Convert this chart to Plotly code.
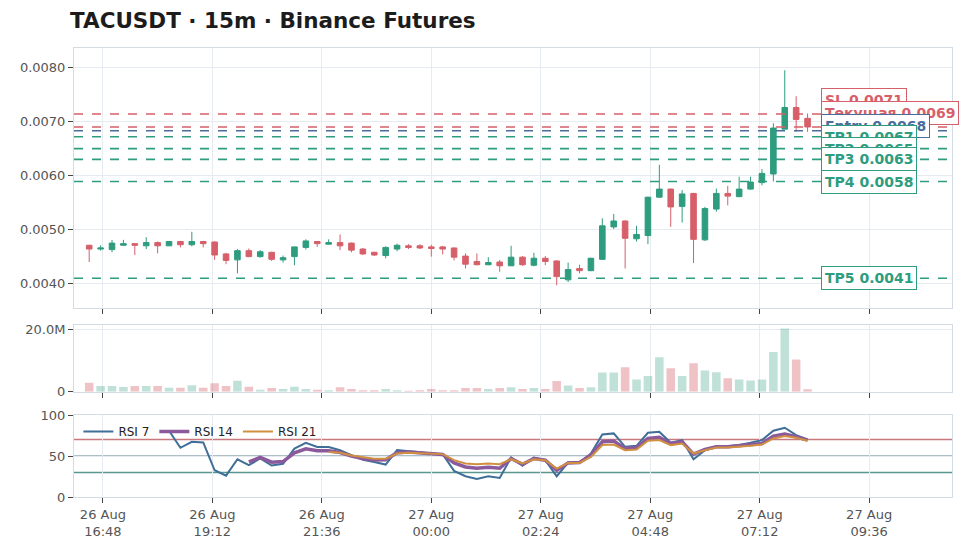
import pandas as pd
import plotly.graph_objects as go
from plotly.subplots import make_subplots

# 15m candles, 26 Aug 16:30 -> 27 Aug 08:15
times = pd.date_range("2025-08-26 16:30", periods=64, freq="15min")

opens = [0.00470, 0.00463, 0.00462, 0.00470, 0.00473, 0.00469, 0.00475, 0.00469, 0.00477, 0.00471,
         0.00477, 0.00476, 0.00454, 0.00443, 0.00460, 0.00449, 0.00457, 0.00443, 0.00449, 0.00466,
         0.00477, 0.00472, 0.00475, 0.00474, 0.00463, 0.00457, 0.00451, 0.00463, 0.00469, 0.00469,
         0.00467, 0.00467, 0.00465, 0.00450, 0.00440, 0.00434, 0.00439, 0.00432, 0.00448, 0.00433,
         0.00446, 0.00441, 0.00406, 0.00427, 0.00423, 0.00444, 0.00504, 0.00515, 0.00482, 0.00488,
         0.00559, 0.00574, 0.00542, 0.00566, 0.00480, 0.00537, 0.00566, 0.00560, 0.00574, 0.00586,
         0.00602, 0.00685, 0.00725, 0.00705]
highs = [0.00471, 0.00470, 0.00480, 0.00480, 0.00474, 0.00485, 0.00477, 0.00478, 0.00478, 0.00495,
         0.00478, 0.00477, 0.00456, 0.00463, 0.00464, 0.00461, 0.00458, 0.00451, 0.00467, 0.00481,
         0.00478, 0.00481, 0.00490, 0.00475, 0.00465, 0.00458, 0.00468, 0.00473, 0.00472, 0.00472,
         0.00471, 0.00469, 0.00466, 0.00455, 0.00455, 0.00448, 0.00443, 0.00469, 0.00450, 0.00456,
         0.00450, 0.00442, 0.00438, 0.00434, 0.00447, 0.00520, 0.00528, 0.00516, 0.00506, 0.00560,
         0.00619, 0.00575, 0.00572, 0.00567, 0.00541, 0.00575, 0.00580, 0.00597, 0.00597, 0.00611,
         0.00696, 0.00794, 0.00746, 0.00714]
lows = [0.00439, 0.00460, 0.00457, 0.00469, 0.00452, 0.00463, 0.00455, 0.00469, 0.00466, 0.00468,
        0.00466, 0.00443, 0.00435, 0.00418, 0.00448, 0.00447, 0.00441, 0.00438, 0.00433, 0.00462,
        0.00467, 0.00472, 0.00461, 0.00457, 0.00452, 0.00450, 0.00446, 0.00459, 0.00463, 0.00463,
        0.00449, 0.00453, 0.00442, 0.00427, 0.00433, 0.00433, 0.00421, 0.00432, 0.00432, 0.00431,
        0.00433, 0.00396, 0.00402, 0.00418, 0.00422, 0.00443, 0.00500, 0.00427, 0.00477, 0.00472,
        0.00558, 0.00504, 0.00512, 0.00437, 0.00478, 0.00532, 0.00544, 0.00560, 0.00573, 0.00581,
        0.00588, 0.00685, 0.00680, 0.00680]
closes = [0.00463, 0.00465, 0.00474, 0.00473, 0.00470, 0.00475, 0.00469, 0.00477, 0.00471, 0.00477,
          0.00473, 0.00452, 0.00442, 0.00460, 0.00449, 0.00458, 0.00444, 0.00447, 0.00467, 0.00478,
          0.00473, 0.00475, 0.00469, 0.00461, 0.00454, 0.00452, 0.00466, 0.00470, 0.00466, 0.00465,
          0.00464, 0.00463, 0.00448, 0.00435, 0.00434, 0.00438, 0.00432, 0.00448, 0.00434, 0.00446,
          0.00440, 0.00412, 0.00425, 0.00423, 0.00446, 0.00506, 0.00515, 0.00483, 0.00490, 0.00559,
          0.00574, 0.00541, 0.00565, 0.00481, 0.00538, 0.00566, 0.00561, 0.00574, 0.00587, 0.00603,
          0.00687, 0.00725, 0.00703, 0.00689]
volumes = [2.9, 1.8, 1.8, 1.5, 1.8, 1.8, 1.8, 1.3, 1.3, 2.1,
           1.3, 2.7, 1.8, 3.5, 1.6, 0.6, 1.2, 0.9, 1.6, 0.9,
           0.6, 0.5, 1.4, 0.85, 0.5, 0.5, 0.85, 0.5, 0.3, 0.5,
           0.85, 0.5, 0.5, 1.2, 1.2, 0.85, 1.2, 1.4, 0.9, 1.2,
           0.9, 3.4, 2.0, 1.2, 1.4, 6.1, 6.1, 7.8, 3.9, 5.0,
           11.0, 7.5, 5.0, 9.1, 6.8, 6.2, 4.3, 3.9, 3.6, 3.9,
           12.7, 20.2, 10.3, 0.8]  # millions

N = None
rsi7 = [N] * 7 + [80.8, 60, 67.3, 66.5, 32.6, 26, 46, 38.8, 47, 38.4,
                  40.5, 59, 66, 61, 61, 57, 51, 45.5, 42.8, 39.6,
                  57.2, 56.3, 54.7, 53, 52.3, 31.8, 25.3, 22, 25.3, 23.3,
                  48.2, 38, 48.2, 44.9, 25.3, 42, 42, 53, 76.3, 77.6,
                  61.2, 62.4, 78.4, 79.6, 66.1, 69.4, 46, 57, 62, 62,
                  63.3, 66.1, 69.4, 80.8, 84.5, 75.5, 70.2]
rsi14 = [N] * 14 + [42.8, 48.2, 42.4, 43.2, 53.9, 58.8, 56.3, 56.3, 54.3, 49.8,
                    47, 45, 45.5, 53.9, 55, 54.3, 53, 51.9, 41.6, 36.7,
                    35.1, 36.3, 35.0, 46.9, 40, 46.9, 44.9, 32.7, 41.6, 42,
                    51, 67.3, 68.2, 59.2, 60, 71.4, 72.7, 65.3, 67.3, 52.2,
                    58, 61.2, 61.2, 62.4, 64, 65.3, 74.3, 76.7, 73.5, 69.4]
rsi21 = [N] * 21 + [55, 53.9, 50.6, 48.2, 46.6, 46.6, 53, 53.9, 53.5, 53,
                    52.3, 44.9, 40.8, 40, 40.8, 40, 46.1, 40.8, 46.1, 44.9,
                    34.7, 41.6, 41.6, 49, 63.3, 64, 57.1, 58, 68.6, 69.4,
                    63.3, 65.3, 53, 57.1, 60.4, 60.4, 61.2, 62.4, 64, 71.4,
                    74.3, 72.2, 68.6]

level_names = ["SL", "Текущая", "Entry", "TP1", "TP2", "TP3", "TP4", "TP5"]
level_values = [0.00713, 0.00689, 0.00682, 0.00671, 0.00649, 0.00629, 0.00588, 0.00409]
level_labels = ["0.0071", "0.0069", "0.0068", "0.0067", "0.0065", "0.0063", "0.0058", "0.0041"]

GREEN = "#2e9c7e"
RED = "#d65f6a"
BLUE = "#4a6d9c"
level_colors = [RED, RED, BLUE, GREEN, GREEN, GREEN, GREEN, GREEN]
level_yshift = [14, 14, 5, 0, 0, 0, 0, 0]

fig = make_subplots(rows=3, cols=1, shared_xaxes=True)

fig.add_trace(go.Candlestick(
    x=times, open=opens, high=highs, low=lows, close=closes,
    increasing=dict(line=dict(color=GREEN, width=1), fillcolor=GREEN),
    decreasing=dict(line=dict(color=RED, width=1), fillcolor=RED),
    whiskerwidth=0, showlegend=False, name="TACUSDT"), row=1, col=1)

vol_colors = ["rgba(46,156,126,0.3)" if c >= o else "rgba(214,95,106,0.38)"
              for o, c in zip(opens, closes)]
fig.add_trace(go.Bar(x=times, y=[v * 1e6 for v in volumes], marker_color=vol_colors,
                     marker_line_width=0, showlegend=False, name="Volume"), row=2, col=1)

fig.add_trace(go.Scatter(x=times, y=rsi7, mode="lines", name="RSI 7",
                         line=dict(color="#3f6e98", width=2)), row=3, col=1)
fig.add_trace(go.Scatter(x=times, y=rsi14, mode="lines", name="RSI 14",
                         line=dict(color="#8b5a9c", width=3.5)), row=3, col=1)
fig.add_trace(go.Scatter(x=times, y=rsi21, mode="lines", name="RSI 21",
                         line=dict(color="#d0903f", width=2)), row=3, col=1)

# rsi guide lines
for lvl, col in [(70, "#c9787e"), (50, "#94aab4"), (30, "#5a9690")]:
    fig.add_shape(type="line", xref="x3 domain", yref="y3", x0=0, x1=1, y0=lvl, y1=lvl,
                  line=dict(color=col, width=1.5), layer="below")

label_x = times[-1] + pd.Timedelta(minutes=18)
for name, val, lab, col, ys in zip(level_names, level_values, level_labels, level_colors, level_yshift):
    fig.add_shape(type="line", xref="x domain", yref="y", x0=0, x1=1, y0=val, y1=val,
                  line=dict(color=col, width=1.6, dash="dash"))
    fig.add_annotation(x=label_x, y=val, xref="x", yref="y", text=f"<b>{name} {lab}</b>",
                       showarrow=False, xanchor="left", yshift=ys,
                       font=dict(size=14, color=col), bgcolor="white",
                       bordercolor=col, borderwidth=1, borderpad=3)

grid = "#e5ebf1"
frame = "#d3dbe4"
xrange = ["2025-08-26 16:10", "2025-08-27 11:25"]
for r in (1, 2, 3):
    fig.update_xaxes(row=r, col=1, range=xrange, type="date",
                     tick0="2025-08-26 16:48", dtick=144 * 60 * 1000,
                     tickformat="%d %b<br>%H:%M", showgrid=True, gridcolor=grid,
                     showline=True, linecolor=frame, mirror=True,
                     ticks="outside", ticklen=5, tickcolor="#444",
                     showticklabels=(r == 3), rangeslider_visible=False)

fig.update_yaxes(row=1, col=1, range=[0.003531, 0.008352], dtick=0.001, tickformat=".4f")
fig.update_yaxes(row=2, col=1, range=[0, 21.3e6], tickvals=[0, 20e6], ticktext=["0", "20.0M"])
fig.update_yaxes(row=3, col=1, range=[0, 100], tickvals=[0, 50, 100])
fig.update_yaxes(showgrid=True, gridcolor=grid, showline=True, linecolor=frame, mirror=True,
                 ticks="outside", ticklen=5, tickcolor="#444", zeroline=False)

fig.update_layout(
    width=971, height=548,
    template="plotly_white",
    paper_bgcolor="white", plot_bgcolor="white",
    font=dict(family="DejaVu Sans", size=13, color="#555"),
    title=dict(text="<b>TACUSDT · 15m · Binance Futures</b>", x=62 / 971, xanchor="left",
               y=1 - 12 / 548, yanchor="middle", font=dict(size=21.5, color="#1c1c1c")),
    margin=dict(l=62, r=27, t=40, b=59),
    xaxis=dict(domain=[0, 1]),
    yaxis=dict(domain=[0.42, 1.0]),
    yaxis2=dict(domain=[0.2345, 0.383]),
    yaxis3=dict(domain=[0.0, 0.1826]),
    legend=dict(orientation="h", x=0.005, y=0.178, xanchor="left", yanchor="top",
                bgcolor="rgba(0,0,0,0)", font=dict(size=12, color="#222")),
    bargap=0.25,
)

fig.write_html("out.html")
